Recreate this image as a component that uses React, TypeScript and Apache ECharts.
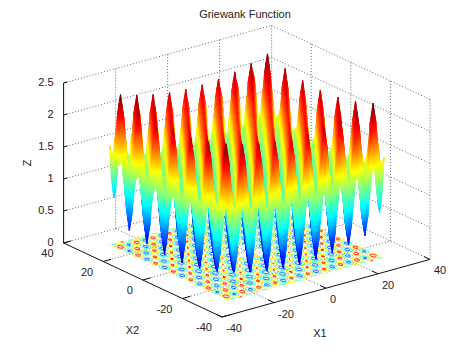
import React, { useEffect, useRef } from "react";
import * as echarts from "echarts";

const titleText = "Griewank Function";
const x1Ticks = [-40, -20, 0, 20, 40];
const x2Ticks = [-40, -20, 0, 20, 40];
const zTicks = [0, 0.5, 1, 1.5, 2, 2.5];
const contourLevels = [0.5, 1, 1.5, 2];

// Surface heights (z x 100) read for the quadrant x1 >= 0, x2 >= 0; the surface is symmetric.
const x1Nodes = [0, 1.05, 2.09, 3.14, 4.19, 5.24, 6.28, 7.33, 8.38, 9.42, 10.47, 11.52, 12.57, 13.61, 14.66, 15.71, 16.76, 17.8, 18.85, 19.9, 20.94, 21.99, 23.04, 24.09, 25.13, 26.18, 27.23, 28.27, 29.32, 30];
const x2Nodes = [0, 1.48, 2.96, 4.44, 5.92, 7.4, 8.89, 10.37, 11.85, 13.33, 14.81, 16.29, 17.77, 19.25, 20.73, 22.21, 23.7, 25.18, 26.66, 28.14, 29.62, 30];
const zQuadrant = [
  [0, 50, 150, 200, 150, 51, 1, 51, 152, 202, 153, 53, 4, 55, 155, 206, 157, 58, 9, 60, 161, 212, 163, 64, 16, 67, 169, 220, 171, 108],
  [50, 75, 125, 150, 125, 76, 51, 76, 127, 152, 128, 78, 54, 80, 130, 156, 132, 83, 59, 85, 136, 162, 138, 89, 66, 92, 144, 170, 146, 115],
  [150, 125, 75, 50, 75, 126, 151, 126, 77, 52, 78, 128, 154, 130, 80, 56, 82, 133, 159, 135, 86, 62, 88, 139, 166, 142, 94, 70, 96, 131],
  [200, 150, 50, 0, 50, 151, 201, 151, 52, 2, 53, 153, 204, 155, 55, 6, 57, 158, 209, 160, 61, 12, 63, 164, 216, 167, 69, 20, 71, 138],
  [151, 126, 76, 51, 76, 127, 152, 127, 78, 53, 79, 129, 155, 131, 81, 57, 83, 134, 160, 136, 87, 63, 89, 140, 167, 143, 95, 71, 97, 132],
  [51, 76, 126, 151, 126, 77, 52, 77, 128, 153, 129, 79, 55, 81, 131, 157, 133, 84, 60, 86, 137, 163, 139, 90, 67, 93, 145, 171, 147, 116],
  [2, 52, 152, 202, 152, 53, 3, 53, 154, 204, 155, 55, 6, 57, 157, 208, 159, 60, 11, 62, 163, 214, 165, 66, 18, 69, 171, 222, 173, 110],
  [53, 78, 128, 153, 128, 79, 54, 79, 130, 155, 131, 81, 57, 83, 133, 159, 135, 86, 62, 88, 139, 165, 141, 92, 69, 95, 147, 173, 149, 118],
  [154, 129, 79, 54, 79, 130, 155, 130, 81, 56, 82, 132, 158, 134, 84, 60, 86, 137, 163, 139, 90, 66, 92, 143, 170, 146, 98, 74, 100, 135],
  [204, 154, 54, 4, 54, 155, 205, 155, 56, 6, 57, 157, 208, 159, 59, 10, 61, 162, 213, 164, 65, 16, 67, 168, 220, 171, 73, 24, 75, 142],
  [155, 130, 80, 55, 80, 131, 156, 131, 82, 57, 83, 133, 159, 135, 85, 61, 87, 138, 164, 140, 91, 67, 93, 144, 171, 147, 99, 75, 101, 136],
  [57, 82, 132, 157, 132, 83, 58, 83, 134, 159, 135, 85, 61, 87, 137, 163, 139, 90, 66, 92, 143, 169, 145, 96, 73, 99, 151, 177, 153, 122],
  [8, 58, 158, 208, 158, 59, 9, 59, 160, 210, 161, 61, 12, 63, 163, 214, 165, 66, 17, 68, 169, 220, 171, 72, 24, 75, 177, 228, 179, 116],
  [59, 84, 134, 159, 134, 85, 60, 85, 136, 161, 137, 87, 63, 89, 139, 165, 141, 92, 68, 94, 145, 171, 147, 98, 75, 101, 153, 179, 155, 124],
  [161, 136, 86, 61, 86, 137, 162, 137, 88, 63, 89, 139, 165, 141, 91, 67, 93, 144, 170, 146, 97, 73, 99, 150, 177, 153, 105, 81, 107, 142],
  [212, 162, 62, 12, 62, 163, 213, 163, 64, 14, 65, 165, 216, 167, 67, 18, 69, 170, 221, 172, 73, 24, 75, 176, 228, 179, 81, 32, 83, 150],
  [164, 139, 89, 64, 89, 140, 165, 140, 91, 66, 92, 142, 168, 144, 94, 70, 96, 147, 173, 149, 100, 76, 102, 153, 180, 156, 108, 84, 110, 145],
  [66, 91, 141, 166, 141, 92, 67, 92, 143, 168, 144, 94, 70, 96, 146, 172, 148, 99, 75, 101, 152, 178, 154, 105, 82, 108, 160, 186, 162, 131],
  [18, 68, 168, 218, 168, 69, 19, 69, 170, 220, 171, 71, 22, 73, 173, 224, 175, 76, 27, 78, 179, 230, 181, 82, 34, 85, 187, 238, 189, 126],
  [70, 95, 145, 170, 145, 96, 71, 96, 147, 172, 148, 98, 74, 100, 150, 176, 152, 103, 79, 105, 156, 182, 158, 109, 86, 112, 164, 190, 166, 135],
  [172, 147, 97, 72, 97, 148, 173, 148, 99, 74, 100, 150, 176, 152, 102, 78, 104, 155, 181, 157, 108, 84, 110, 161, 188, 164, 116, 92, 118, 153],
  [194, 158, 87, 52, 87, 159, 195, 159, 89, 54, 90, 161, 198, 163, 92, 58, 94, 166, 203, 168, 98, 64, 100, 172, 210, 175, 106, 72, 108, 156],
];

const mirror = (a: number[], neg: boolean) => [...a.slice(1).reverse().map((v) => (neg ? -v : v)), ...a];
const xs1Raw = mirror(x1Nodes, true);
const xs2Raw = mirror(x2Nodes, true);
const zRaw = mirror(zQuadrant.map((_, i) => i), false).map((i) => mirror(zQuadrant[i], false).map((v) => v / 100));

// Spline-smoothed drawing mesh (like a line series' smooth: true), one extra node between nodes.
const splineMid = (a: number, b: number, c: number, d: number) => (-a + 9 * b + 9 * c - d) / 16;
function refine(line: number[]) {
  const out: number[] = [];
  const at = (i: number) => line[Math.max(0, Math.min(line.length - 1, i))];
  for (let i = 0; i < line.length; i++) {
    out.push(line[i]);
    if (i < line.length - 1) out.push(splineMid(at(i - 1), at(i), at(i + 1), at(i + 2)));
  }
  return out;
}
const midpoints = (a: number[]) => a.flatMap((v, i) => (i < a.length - 1 ? [v, (v + a[i + 1]) / 2] : [v]));
const xs1 = midpoints(xs1Raw);
const xs2 = midpoints(xs2Raw);
const rowsFine = zRaw.map(refine);
const zGrid: number[][] = [];
{
  const cols = xs1.map((_, c) => refine(rowsFine.map((r) => r[c])));
  for (let j = 0; j < xs2.length; j++) zGrid.push(xs1.map((_, c) => cols[c][j]));
}

const Z_TOP = 2.33;
const jetKnots: [number, number[]][] = [
  [0, [0, 0, 127]],
  [1 / 8, [0, 0, 255]],
  [3 / 8, [0, 255, 255]],
  [5 / 8, [255, 255, 0]],
  [7 / 8, [255, 0, 0]],
  [1, [127, 0, 0]],
];
function jet(z: number) {
  const t = Math.max(0, Math.min(1, z / Z_TOP));
  for (let i = 1; i < jetKnots.length; i++) {
    if (t <= jetKnots[i][0]) {
      const [t0, c0] = jetKnots[i - 1];
      const [t1, c1] = jetKnots[i];
      const f = (t - t0) / (t1 - t0);
      return `rgb(${c0.map((c, n) => Math.round(c + (c1[n] - c) * f)).join(",")})`;
    }
  }
  return "rgb(127,0,0)";
}

const project = (x1: number, x2: number, z: number) => [2.6 * x1 - 1.98 * x2, 0.72 * x1 + 0.925 * x2 + 64 * z];

type V = { p: number[]; z: number };

function triFill(tri: V[]) {
  const [a, b, c] = [...tri].sort((m, n) => m.z - n.z);
  const dz = c.z - a.z;
  if (dz < 1e-4) return jet(a.z);
  const r = (b.z - a.z) / dz;
  const ex = b.p[0] - (a.p[0] + r * (c.p[0] - a.p[0]));
  const ey = b.p[1] - (a.p[1] + r * (c.p[1] - a.p[1]));
  const len = Math.hypot(ex, ey);
  let x1 = c.p[0];
  let y1 = c.p[1];
  if (len > 1e-3) {
    const nx = -ey / len;
    const ny = ex / len;
    const s = (c.p[0] - a.p[0]) * nx + (c.p[1] - a.p[1]) * ny;
    if (Math.abs(s) < 0.02) return jet((a.z + c.z) / 2);
    x1 = a.p[0] + nx * s;
    y1 = a.p[1] + ny * s;
  }
  const stops = [{ offset: 0, color: jet(a.z) }];
  for (const [k] of jetKnots) {
    const zk = k * Z_TOP;
    if (zk > a.z && zk < c.z) stops.push({ offset: (zk - a.z) / dz, color: jet(zk) });
  }
  stops.push({ offset: 1, color: jet(c.z) });
  return new echarts.graphic.LinearGradient(a.p[0], a.p[1], x1, y1, stops, true);
}

const quads: number[][] = [];
for (let j = xs2.length - 2; j >= 0; j--) {
  for (let i = xs1.length - 2; i >= 0; i--) quads.push([i, j]);
}

function renderSurface(params: any, api: any) {
  const [i, j] = quads[params.dataIndex];
  const v = (ii: number, jj: number): V => ({
    p: api.coord(project(xs1[ii], xs2[jj], zGrid[jj][ii])),
    z: zGrid[jj][ii],
  });
  const a = v(i, j);
  const b = v(i + 1, j);
  const c = v(i + 1, j + 1);
  const d = v(i, j + 1);
  const tris = Math.abs(a.z - c.z) < Math.abs(b.z - d.z) ? [[a, c, d], [a, b, c]] : [[b, c, d], [a, b, d]];
  const children = tris.map((t) => {
    const fill = triFill(t);
    return {
      type: "polygon",
      silent: true,
      shape: { points: t.map((n) => n.p) },
      style: { fill, stroke: fill, lineWidth: 0.5 },
    };
  });
  return { type: "group", children };
}

function renderContour(params: any, api: any) {
  const level = contourLevels[params.dataIndex];
  let d = "";
  for (let j = 0; j < xs2.length - 1; j++) {
    for (let i = 0; i < xs1.length - 1; i++) {
      const P = [
        [xs1[i], xs2[j], zGrid[j][i]],
        [xs1[i + 1], xs2[j], zGrid[j][i + 1]],
        [xs1[i + 1], xs2[j + 1], zGrid[j + 1][i + 1]],
        [xs1[i], xs2[j + 1], zGrid[j + 1][i]],
      ];
      for (const tri of [[P[0], P[1], P[2]], [P[0], P[2], P[3]]]) {
        const pts: number[][] = [];
        for (let q = 0; q < 3; q++) {
          const A = tri[q];
          const B = tri[(q + 1) % 3];
          if ((A[2] - level) * (B[2] - level) < 0) {
            const f = (level - A[2]) / (B[2] - A[2]);
            pts.push(api.coord(project(A[0] + (B[0] - A[0]) * f, A[1] + (B[1] - A[1]) * f, 0)));
          }
        }
        if (pts.length === 2) {
          d += `M${pts[0][0].toFixed(1)} ${pts[0][1].toFixed(1)}L${pts[1][0].toFixed(1)} ${pts[1][1].toFixed(1)}`;
        }
      }
    }
  }
  return {
    type: "path",
    silent: true,
    shape: { pathData: d || "M0 0" },
    style: { fill: "none", stroke: jet(level), lineWidth: 1 },
  };
}

const FONT = "'Liberation Sans', Arial, sans-serif";

function renderBox(_params: any, api: any) {
  const children: any[] = [];
  const seg = (a: number[], b: number[], solid: boolean) => {
    const p = api.coord(project(a[0], a[1], a[2]));
    const q = api.coord(project(b[0], b[1], b[2]));
    children.push({
      type: "line",
      silent: true,
      shape: { x1: p[0], y1: p[1], x2: q[0], y2: q[1] },
      style: solid
        ? { stroke: "#111", lineWidth: 1 }
        : { stroke: "#666", lineWidth: 1, lineDash: [1, 2] },
    });
  };
  const label = (a: number[], dx: number, dy: number, text: string, align: string) => {
    const p = api.coord(project(a[0], a[1], a[2]));
    children.push({
      type: "text",
      silent: true,
      style: {
        x: p[0] + dx,
        y: p[1] + dy,
        text,
        fill: "#222",
        font: `11px ${FONT}`,
        textAlign: align,
        textVerticalAlign: "middle",
      },
    });
  };
  for (const z of zTicks) {
    seg([-40, 40, z], [40, 40, z], false);
    seg([40, 40, z], [40, -40, z], false);
    seg([-40, 40, z], [-38.5, 40, z], true);
    label([-40, 40, z], -10, -1, String(z), "right");
  }
  for (const v of x1Ticks) {
    if (v > -40) seg([v, 40, 0], [v, 40, 2.5], false);
    if (v > -40 && v < 40) seg([v, -40, 0], [v, 40, 0], false);
    seg([v, -40, 0], [v, -37, 0], true);
    label([v, -40, 0], 4, 11, String(v), "left");
  }
  for (const v of x2Ticks) {
    if (v < 40) seg([40, v, 0], [40, v, 2.5], false);
    if (v > -40 && v < 40) seg([-40, v, 0], [40, v, 0], false);
    seg([-40, v, 0], [-37, v, 0], true);
    label([-40, v, 0], -10, 10, String(v), "right");
  }
  seg([-40, -40, 0], [40, -40, 0], true);
  seg([-40, -40, 0], [-40, 40, 0], true);
  seg([-40, 40, 0], [-40, 40, 2.5], true);
  label([-10, -40, 0], 20, 38, "X1", "center");
  label([-40, -15, 0], -40, 36, "X2", "center");
  const zl = api.coord(project(-40, 40, 1.25));
  children.push({
    type: "text",
    silent: true,
    x: zl[0] - 37,
    y: zl[1],
    rotation: Math.PI / 2,
    style: { x: 0, y: 0, text: "Z", fill: "#222", font: `11px ${FONT}`, textAlign: "center", textVerticalAlign: "middle" },
  });
  return { type: "group", children };
}

export default function App() {
  const ref = useRef<HTMLDivElement>(null);
  useEffect(() => {
    document.body.style.margin = "0";
    const chart = echarts.init(ref.current!, null, { renderer: "svg" });
    chart.setOption({
      animation: false,
      backgroundColor: "#fff",
      title: {
        text: titleText,
        left: 240,
        top: 3,
        textAlign: "center",
        textStyle: { fontFamily: FONT, fontSize: 11, fontWeight: "normal", color: "#222" },
      },
      tooltip: { show: false },
      grid: { left: 0, right: 0, top: 0, bottom: 0 },
      xAxis: { type: "value", min: -246.8, max: 227.2, show: false },
      yAxis: { type: "value", min: -103.8, max: 251.2, show: false },
      series: [
        { type: "custom", data: [[0, 0]], renderItem: renderBox, clip: false, silent: true },
        { type: "custom", data: contourLevels.map((l) => [0, l]), renderItem: renderContour, clip: false, silent: true },
        {
          type: "custom",
          data: quads.map(([i, j]) => project(xs1[i], xs2[j], zGrid[j][i])),
          renderItem: renderSurface,
          clip: false,
          silent: true,
          progressive: 0,
        },
      ],
    });
    return () => chart.dispose();
  }, []);
  return <div ref={ref} style={{ width: 474, height: 355 }} />;
}
